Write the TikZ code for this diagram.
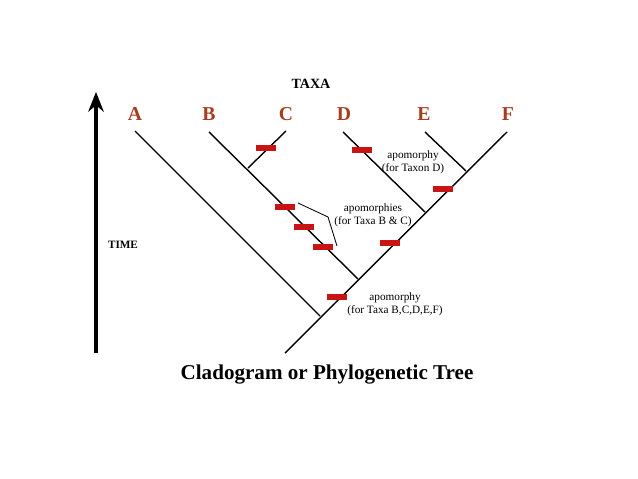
\documentclass[tikz,border=0pt]{standalone}
\usepackage{fontspec}
\setmainfont{Liberation Serif}
\usetikzlibrary{arrows.meta}
\definecolor{taxon}{RGB}{165,62,30}
\definecolor{mark}{RGB}{200,20,20}
\tikzset{
  branch/.style={line width=1pt},
  taxon/.style={text=taxon,font=\bfseries\fontsize{14}{14}\selectfont},
  note/.style={font=\fontsize{8}{9.5}\selectfont,align=center},
  apo/.style={draw=mark,line width=4pt}
}
\begin{document}
\begin{tikzpicture}[x=0.025cm,y=-0.025cm]
\useasboundingbox (0,0) rectangle (638,479);
% tips
\coordinate (a) at (135,131);
\coordinate (b) at (209,132);
\coordinate (c) at (286,131);
\coordinate (d) at (343,132);
\coordinate (e) at (425,132);
\coordinate (f) at (507,132);
% joins
\coordinate (root) at (285,353);
\coordinate (jA) at (320,316);
\coordinate (jB) at (358,279);
\coordinate (jC) at (248,168);
\coordinate (jD) at (425,212);
\coordinate (jE) at (466,171);
\draw[branch] (root) -- (f);
\draw[branch] (jA) -- (a);
\draw[branch] (jB) -- (b);
\draw[branch] (jC) -- (c);
\draw[branch] (jD) -- (d);
\draw[branch] (jE) -- (e);
% apomorphy marks
\foreach \p in {(266,148),(362,150),(443,189),(390,243),(285,207),(304,227),(323,247),(337,297)}
  \draw[apo] \p ++(-10,0) -- ++(20,0);
% leader
\draw[line width=0.6pt] (298,203) -- (328,217) -- (337,246);
% labels
\node[taxon] (lA) at (135,114) {A};
\node[taxon] (lB) at (209,114) {B};
\node[taxon] (lC) at (286,114) {C};
\node[taxon] (lD) at (344,114) {D};
\node[taxon] (lE) at (424,114) {E};
\node[taxon] (lF) at (508,114) {F};
\node[font=\bfseries\fontsize{10}{10}\selectfont] (taxa) at (311,84) {TAXA};
\node[font=\bfseries\fontsize{8}{8}\selectfont] (time) at (123,245) {TIME};
\node[note] (n1) at (413,162) {apomorphy\\(for Taxon D)};
\node[note] (n2) at (373,215) {apomorphies\\(for Taxa B \& C)};
\node[note] (n3) at (395,304) {apomorphy\\(for Taxa B,C,D,E,F)};
\node[font=\bfseries\fontsize{15}{15}\selectfont] (title) at (327,375) {Cladogram or Phylogenetic Tree};
% time arrow
\coordinate (t0) at (96,353);
\coordinate (t1) at (96,92);
\draw[line width=2.5pt,-{Stealth[length=14pt,width=11pt]}] (t0) -- (t1);
\end{tikzpicture}
\end{document}
